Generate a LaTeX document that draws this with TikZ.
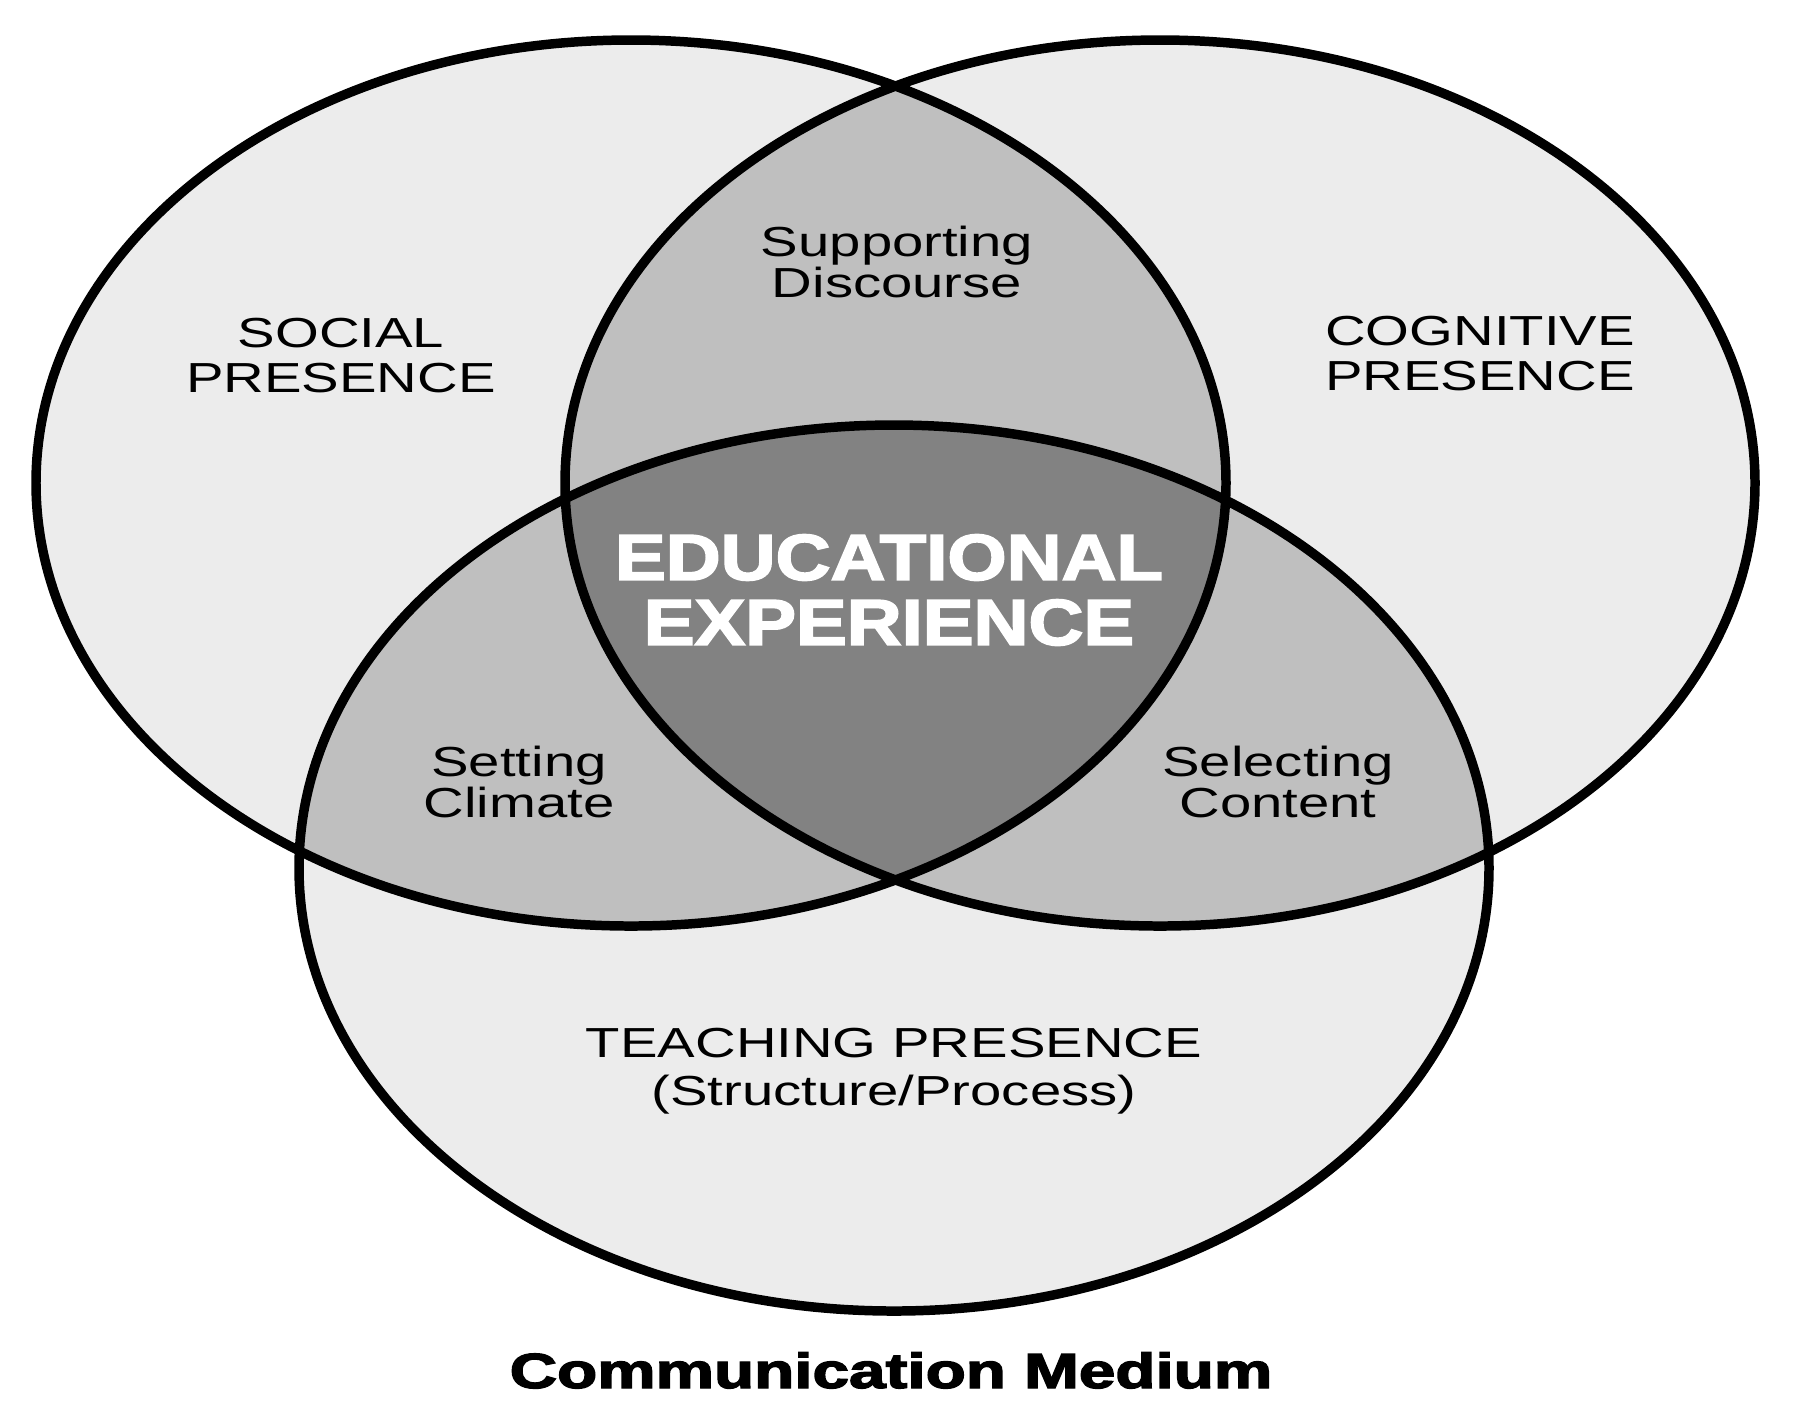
\documentclass[tikz,border=0pt]{standalone}
\usepackage{fontspec}
\setmainfont{Liberation Sans}
\newfontfamily\heavyfont[FakeBold=2.5]{Liberation Sans Bold}

\definecolor{outergray}{RGB}{236,236,236}
\definecolor{pairgray}{RGB}{191,191,191}
\definecolor{coregray}{RGB}{130,130,130}

\def\socialset{(631,483) ellipse [x radius=595, y radius=443]}
\def\cognitiveset{(1160,483) ellipse [x radius=595, y radius=443]}
\def\teachingset{(894,868) ellipse [x radius=595, y radius=443]}

\tikzset{
  rim/.style={line width=2.7pt, black},
  caplbl/.style={font=\fontsize{11.95}{12.8}\selectfont, align=center, inner sep=0pt, xscale=1.34},
  sublbl/.style={font=\fontsize{11.95}{11.9}\selectfont, align=center, inner sep=0pt, xscale=1.34},
}

\begin{document}
\begin{tikzpicture}[x=0.1mm, y=-0.1mm]
  \fill[white] (0,0) rectangle (1797,1406);
  \useasboundingbox (0,0) rectangle (1797,1406);

  \fill[outergray] \socialset;
  \fill[outergray] \cognitiveset;
  \fill[outergray] \teachingset;
  \begin{scope}
    \clip \socialset;
    \fill[pairgray] \cognitiveset;
    \fill[pairgray] \teachingset;
  \end{scope}
  \begin{scope}
    \clip \cognitiveset;
    \fill[pairgray] \teachingset;
  \end{scope}
  \begin{scope}
    \clip \socialset;
    \clip \cognitiveset;
    \fill[coregray] \teachingset;
  \end{scope}
  \draw[rim] \socialset \cognitiveset \teachingset;

  \node[caplbl] (social) at (341,356) {SOCIAL\\PRESENCE};
  \node[caplbl] (cognitive) at (1480,354) {COGNITIVE\\PRESENCE};
  \node[caplbl, font=\fontsize{11.95}{13.8}\selectfont] (teaching) at (894,1071) {TEACHING PRESENCE\\(Structure/Process)};
  \node[sublbl] (discourse) at (897,262) {Supporting\\Discourse};
  \node[sublbl] (climate) at (519,782) {Setting\\Climate};
  \node[sublbl] (content) at (1278,782) {Selecting\\Content};
  \node[white, align=center, inner sep=0pt, xscale=1.17,
    font=\fontsize{18.5}{18.5}\selectfont\heavyfont] (experience) at (889,590) {EDUCATIONAL\\EXPERIENCE};
  \node[anchor=base, inner sep=0pt, xscale=1.33,
    font=\fontsize{14.05}{14.05}\selectfont\heavyfont] (medium) at (891,1388) {Communication Medium};
\end{tikzpicture}
\end{document}
